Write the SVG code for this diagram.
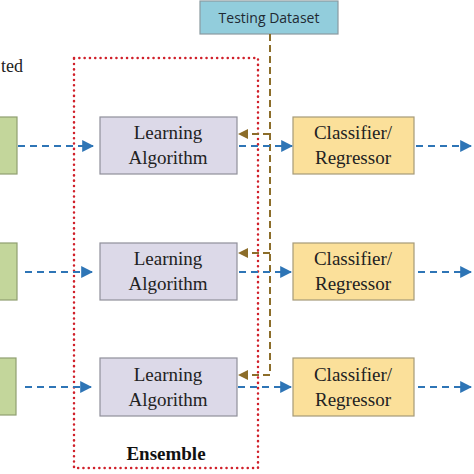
<svg xmlns="http://www.w3.org/2000/svg" width="474" height="474" viewBox="0 0 474 474">
<style>
.t{font-family:"Liberation Serif","Times New Roman",serif;font-size:19px;fill:#222;text-anchor:middle}
.la{fill:#dcd9e8;stroke:#8f8f9a;stroke-width:1.2}
.cr{fill:#fbe09a;stroke:#a69a78;stroke-width:1.2}
.gr{fill:#c3d69b;stroke:#8f9f70;stroke-width:1.2}
.blue{stroke:#2e75b6;stroke-width:2;stroke-dasharray:7,5;fill:none}
.brown{stroke:#8c6d2a;stroke-width:2;stroke-dasharray:7,4;fill:none}
</style>
<defs>
<marker id="ar" viewBox="0 0 10 10" refX="9" refY="5" markerWidth="10" markerHeight="10" orient="auto" markerUnits="userSpaceOnUse"><path d="M0,0 L10,5 L0,10 z" fill="#8c6d2a"/></marker>
<marker id="abl" viewBox="0 0 10 10" refX="9" refY="5" markerWidth="12" markerHeight="12" orient="auto" markerUnits="userSpaceOnUse"><path d="M0,0 L10,5 L0,10 z" fill="#2e75b6"/></marker>
</defs>
<rect width="474" height="474" fill="#fff"/>
<text x="1" y="72" font-family="Liberation Serif, serif" font-size="18" fill="#222">ted</text>
<g id="testing">
<rect x="200" y="1" width="138" height="33" fill="#92cddc" stroke="#8a9aa0" stroke-width="1.2"/>
<text x="269" y="23" font-family="Open Sans, Liberation Sans, sans-serif" font-size="14" fill="#1f2a33" text-anchor="middle">Testing Dataset</text>
</g>
<g id="ensemble">
<rect x="74" y="58" width="184" height="410" fill="none" stroke="#d0202a" stroke-width="2.5" stroke-dasharray="0.1,5.2" stroke-linecap="round"/>
<text x="166" y="460" font-family="Liberation Serif, serif" font-size="19" font-weight="bold" fill="#111" text-anchor="middle">Ensemble</text>
</g>
<g id="d1"><rect class="gr" x="-5" y="117" width="22" height="57"/></g>
<g id="d2"><rect class="gr" x="-5" y="243" width="22" height="57"/></g>
<g id="d3"><rect class="gr" x="-5" y="358" width="21" height="57"/></g>
<g id="la1"><rect class="la" x="100" y="117" width="137" height="57"/><text class="t" x="168" y="139">Learning</text><text class="t" x="168" y="164">Algorithm</text></g>
<g id="la2"><rect class="la" x="100" y="243" width="137" height="57"/><text class="t" x="168" y="265">Learning</text><text class="t" x="168" y="290">Algorithm</text></g>
<g id="la3"><rect class="la" x="100" y="358" width="137" height="58"/><text class="t" x="168" y="381">Learning</text><text class="t" x="168" y="406">Algorithm</text></g>
<g id="cr1"><rect class="cr" x="293" y="117" width="121" height="57"/><text class="t" x="353" y="139">Classifier/</text><text class="t" x="353" y="164">Regressor</text></g>
<g id="cr2"><rect class="cr" x="293" y="243" width="121" height="57"/><text class="t" x="353" y="265">Classifier/</text><text class="t" x="353" y="290">Regressor</text></g>
<g id="cr3"><rect class="cr" x="293" y="358" width="121" height="58"/><text class="t" x="353" y="381">Classifier/</text><text class="t" x="353" y="406">Regressor</text></g>
<g id="connectors">
<path class="brown" d="M270,34 V375"/>
<path class="brown" d="M270,134 H239" marker-end="url(#ar)"/>
<path class="brown" d="M270,253 H239" marker-end="url(#ar)"/>
<path class="brown" d="M270,375 H239" marker-end="url(#ar)"/>
<path class="blue" d="M18,146 H93" marker-end="url(#abl)"/>
<path class="blue" d="M25,272 H92" marker-end="url(#abl)"/>
<path class="blue" d="M25,387 H91" marker-end="url(#abl)"/>
<path class="blue" d="M239,146 H292" marker-end="url(#abl)"/>
<path class="blue" d="M239,272 H291" marker-end="url(#abl)"/>
<path class="blue" d="M238,387 H291" marker-end="url(#abl)"/>
<path class="blue" d="M416,146 H471" marker-end="url(#abl)"/>
<path class="blue" d="M418,272 H471" marker-end="url(#abl)"/>
<path class="blue" d="M418,387 H471" marker-end="url(#abl)"/>
</g>
</svg>
